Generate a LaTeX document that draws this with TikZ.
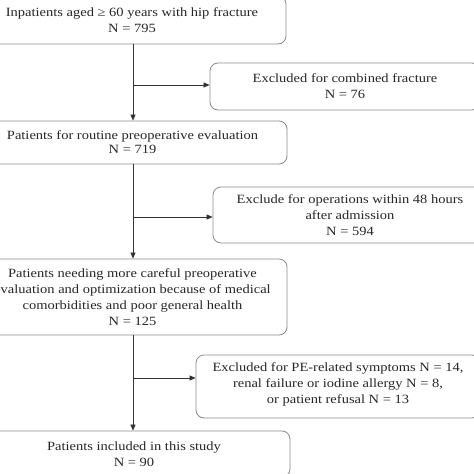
\documentclass[tikz,border=0pt]{standalone}
\usepackage{fontspec}
\setmainfont{Liberation Serif}[FakeStretch=1.15]
\usetikzlibrary{arrows.meta,calc}
\definecolor{boxline}{HTML}{8A8A8A}
\definecolor{conn}{HTML}{333333}
\tikzset{
  box/.style={draw=boxline, line width=0.8pt, rounded corners=8pt, align=center,
    font=\fontsize{12.6pt}{16pt}\selectfont, inner sep=0pt, anchor=center, text=black!85},
  conn/.style={draw=conn, line width=0.7pt, -{Triangle[length=6pt,width=5pt]}},
  plain/.style={draw=conn, line width=0.7pt}
}
\begin{document}
\begin{tikzpicture}[x=1pt,y=-1pt]
\useasboundingbox (0,0) rectangle (474,474);
\clip (0,0) rectangle (474,474);
\node[box, minimum width=308pt, minimum height=48pt] (top) at (132,20) {Inpatients aged ≥ 60 years with hip fracture\\N = 795};
\node[box, minimum width=270pt, minimum height=47pt] (ex1) at (345,86.5) {Excluded for combined fracture\\N = 76};
\node[box, minimum width=309pt, minimum height=43pt] (b2) at (132.5,142.5) {\raisebox{-2pt}{Patients for routine preoperative evaluation}\\N = 719};
\node[box, minimum width=274pt, minimum height=56pt] (ex2) at (350,215) {Exclude for operations within 48 hours\\after admission\\N = 594};
\node[box, minimum width=309pt, minimum height=76pt] (b4) at (132.5,297) {Patients needing more careful preoperative\\evaluation and optimization because of medical\\comorbidities and poor general health\\N = 125};
\node[box, minimum width=284pt, minimum height=63pt, text depth=0pt] (ex3) at (338,386.5) {\\[-14pt]Excluded for PE-related symptoms N = 14,\\renal failure or iodine allergy N = 8,\\or patient refusal N = 13};
\node[box, minimum width=312pt, minimum height=46pt] (b6) at (134,454) {Patients included in this study\\N = 90};
\coordinate (j1) at (133,85);
\coordinate (j2) at (133,217);
\coordinate (j3) at (133,378);
\draw[conn] (top.south -| j1) -- (b2.north -| j1);
\draw[conn] (j1) -- (j1 -| ex1.west);
\draw[conn] (b2.south -| j2) -- (b4.north -| j2);
\draw[conn] (j2) -- (j2 -| ex2.west);
\draw[conn] (b4.south -| j3) -- (b6.north -| j3);
\draw[conn] (j3) -- (j3 -| ex3.west);
\end{tikzpicture}
\end{document}
